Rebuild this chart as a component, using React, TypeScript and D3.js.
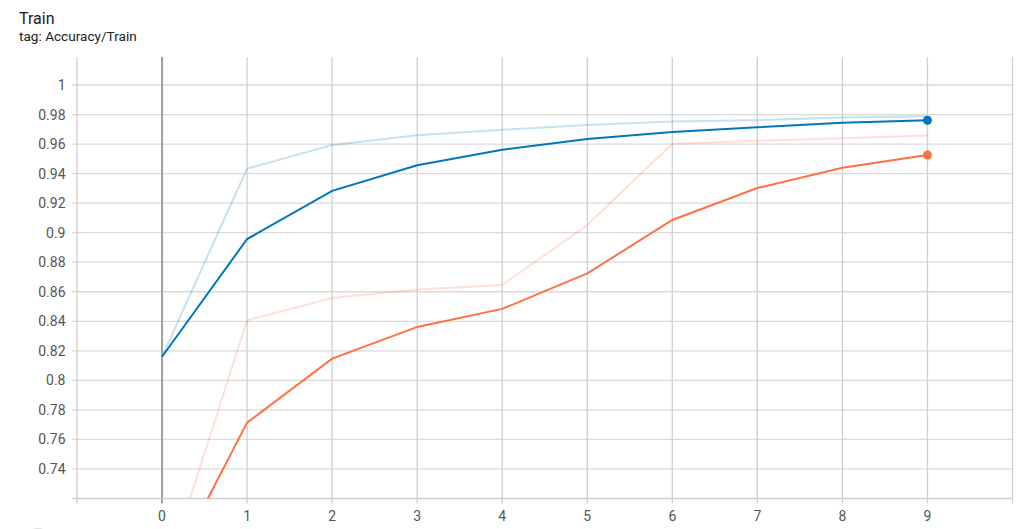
import React, { useEffect, useRef } from "react";
import * as d3 from "d3";

// steps logged to the run
const steps = [0, 1, 2, 3, 4, 5, 6, 7, 8, 9];

// run 1 (blue)
const blueRaw = [0.816, 0.9434, 0.9593, 0.9659, 0.9697, 0.9729, 0.9752, 0.9762, 0.978, 0.9789];
const blueSmooth = [0.816, 0.8957, 0.9283, 0.9456, 0.9561, 0.9634, 0.9681, 0.9714, 0.9744, 0.9761];

// run 2 (orange)
const orangeRaw = [0.661, 0.8407, 0.8558, 0.8615, 0.8646, 0.9052, 0.9602, 0.9622, 0.964, 0.9658];
const orangeSmooth = [0.66, 0.7714, 0.8147, 0.8362, 0.8484, 0.8724, 0.9086, 0.9302, 0.9439, 0.9526];

const yTicks = [0.74, 0.76, 0.78, 0.8, 0.82, 0.84, 0.86, 0.88, 0.9, 0.92, 0.94, 0.96, 0.98, 1];
const xTicks = [0, 1, 2, 3, 4, 5, 6, 7, 8, 9];

const runs = [
  { raw: blueRaw, smooth: blueSmooth, color: "#0077bb" },
  { raw: orangeRaw, smooth: orangeSmooth, color: "#ff7043" },
];

const App: React.FC = () => {
  const ref = useRef<SVGSVGElement | null>(null);

  useEffect(() => {
    if (!ref.current) return;
    const svg = d3.select(ref.current);
    svg.selectAll("*").remove();

    const left = 77, right = 1012.5, top = 57, bottom = 498.5;
    const x = d3.scaleLinear().domain([-1, 10]).range([left, right]);
    const y = d3.scaleLinear().domain([0.72, 1]).range([bottom, 85]);
    const font = "Roboto, 'Noto Sans', sans-serif";

    // title
    svg.append("text").attr("x", 19).attr("y", 24)
      .style("font-family", font).style("font-size", "16px").style("fill", "#212121")
      .text("Train");
    svg.append("text").attr("x", 19).attr("y", 41)
      .style("font-family", font).style("font-size", "13.6px").style("fill", "#212121")
      .text("tag: Accuracy/Train");

    const g = svg.append("g");

    // horizontal grid + ticks
    g.selectAll("line.hgrid").data(yTicks).enter().append("line")
      .attr("x1", left - 5).attr("x2", right)
      .attr("y1", (d) => y(d)).attr("y2", (d) => y(d))
      .attr("stroke", "#dadada").attr("stroke-width", 1.3);

    // vertical grid
    const vLines = d3.range(-1, 11);
    g.selectAll("line.vgrid").data(vLines).enter().append("line")
      .attr("x1", (d) => x(d)).attr("x2", (d) => x(d))
      .attr("y1", top).attr("y2", bottom + 5)
      .attr("stroke", (d) => (d === 0 ? "#9e9e9e" : "#d0d0d0"))
      .attr("stroke-width", (d) => (d === 0 ? 2 : 1.3));

    // bottom axis line
    g.append("line").attr("x1", left - 5).attr("x2", right)
      .attr("y1", bottom).attr("y2", bottom)
      .attr("stroke", "#d0d0d0").attr("stroke-width", 1.3);

    // y labels
    g.selectAll("text.ylab").data(yTicks).enter().append("text")
      .attr("x", 65.5).attr("y", (d) => y(d) + 5)
      .attr("text-anchor", "end")
      .style("font-family", font).style("font-size", "14px").style("fill", "#555")
      .text((d) => d3.format("")(d));

    // x labels
    g.selectAll("text.xlab").data(xTicks).enter().append("text")
      .attr("x", (d) => x(d)).attr("y", 521)
      .attr("text-anchor", "middle")
      .style("font-family", font).style("font-size", "14px").style("fill", "#555")
      .text((d) => String(d));

    svg.append("clipPath").attr("id", "plot-clip").append("rect")
      .attr("x", left).attr("y", top).attr("width", right - left).attr("height", bottom - top);

    const lines = svg.append("g").attr("clip-path", "url(#plot-clip)");
    const line = d3.line<number>().x((_, i) => x(steps[i])).y((d) => y(d));

    runs.forEach((r) => {
      lines.append("path").datum(r.raw)
        .attr("fill", "none").attr("stroke", r.color).attr("stroke-opacity", 0.22)
        .attr("stroke-width", 2).attr("d", line);
    });
    runs.forEach((r) => {
      lines.append("path").datum(r.smooth)
        .attr("fill", "none").attr("stroke", r.color)
        .attr("stroke-width", 2).attr("d", line);
      const last = r.smooth.length - 1;
      lines.append("circle")
        .attr("cx", x(steps[last])).attr("cy", y(r.smooth[last]))
        .attr("r", 4.5).attr("fill", r.color);
    });

    // partially visible button at bottom-left
    svg.append("circle").attr("cx", 38).attr("cy", 543).attr("r", 15).attr("fill", "#e0e0e0");
  }, []);

  return (
    <svg
      ref={ref}
      width={1024}
      height={529}
      style={{ position: "absolute", left: 0, top: 0, background: "#fff" }}
    />
  );
};

export default App;
